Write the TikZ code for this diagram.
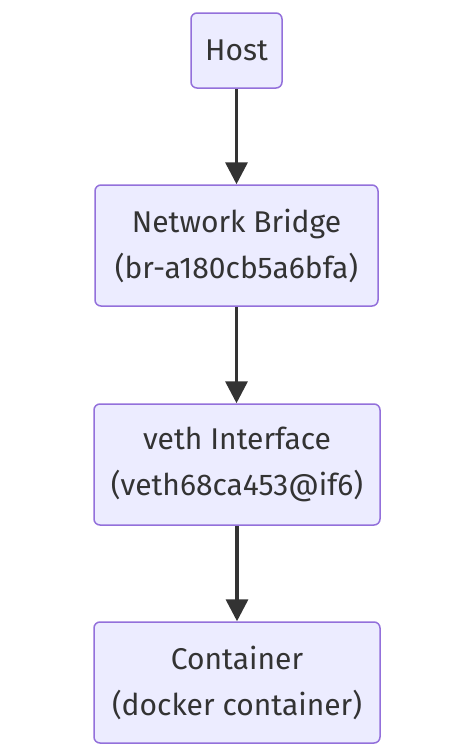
\documentclass[tikz,border=0pt]{standalone}
\usepackage{fontspec}
\setmainfont{Fira Sans}
\usetikzlibrary{arrows.meta}
\definecolor{boxfill}{HTML}{ECECFF}
\definecolor{boxline}{HTML}{9370DB}
\definecolor{linkcol}{HTML}{333333}
\tikzset{
  boxnode/.style={draw=boxline, fill=boxfill, line width=1.5pt, rounded corners=6pt,
    align=center, text=linkcol, inner sep=0pt,
    font=\fontsize{30}{46}\selectfont},
  link/.style={draw=linkcol, line width=3.5pt, -{Triangle[length=22pt,width=22pt]}}
}
\begin{document}
\begin{tikzpicture}[x=1pt,y=1pt]
            \useasboundingbox (0,0) rectangle (474,-750);
            \fill[white] (0,0) rectangle (474,-750);

            \node[boxnode, minimum width=91pt, minimum height=75pt] (host) at (236.5, -50.5) {Host};
            \node[boxnode, minimum width=283pt, minimum height=121pt] (bridge) at (236.5, -245.5)
                {Network Bridge\\(br-a180cb5a6bfa)};
            \node[boxnode, minimum width=286pt, minimum height=121pt] (veth) at (237, -464.5)
                {veth Interface\\(veth68ca453@if6)};
            \node[boxnode, minimum width=286pt, minimum height=121pt] (container) at (237, -682.5)
                {Container\\(docker container)};

            \draw[link] (host) -- (bridge);
            \draw[link] (bridge) -- (bridge |- veth.north);
            \draw[link] (veth) -- (container);
\end{tikzpicture}
\end{document}
